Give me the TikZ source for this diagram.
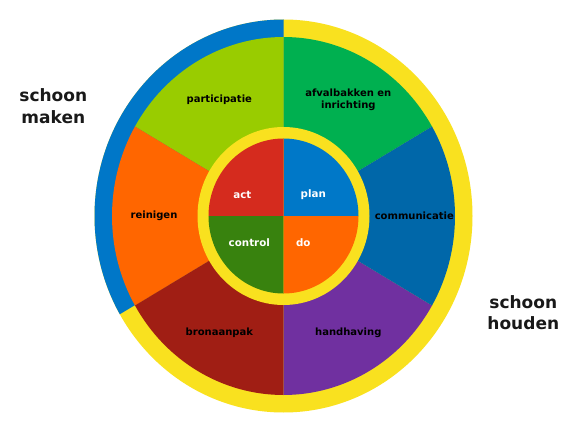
\documentclass[tikz,border=0pt]{standalone}
\usepackage{fontspec}
\setmainfont{DejaVu Sans}
\definecolor{ringblue}{HTML}{0077C8}
\definecolor{ringyellow}{HTML}{F9E11F}
\definecolor{cpart}{HTML}{99CC00}
\definecolor{cafval}{HTML}{00B050}
\definecolor{ccomm}{HTML}{0067A9}
\definecolor{chand}{HTML}{7030A0}
\definecolor{cbron}{HTML}{A01E14}
\definecolor{crein}{HTML}{FF6600}
\definecolor{cact}{HTML}{D52B1E}
\definecolor{cplan}{HTML}{0078C8}
\definecolor{ccontrol}{HTML}{38820E}
\definecolor{cdo}{HTML}{FF6600}
\tikzset{
  outerlabel/.style={font=\bfseries\fontsize{10}{12}\selectfont, text=black, align=center, inner sep=0pt},
  innerlabel/.style={font=\bfseries\fontsize{10.3}{12}\selectfont, text=white, inner sep=0pt},
  sidelabel/.style={font=\bfseries\fontsize{17}{21.5}\selectfont, text=black!90, align=center, inner sep=0pt}
}
\newcommand{\esector}[5]{% color, start, end, rx, ry
  \fill[#1] (c) -- ++({#4*cos(#2)},{#5*sin(#2)}) arc[start angle=#2, end angle=#3, x radius=#4, y radius=#5] -- cycle;}
\begin{document}
\begin{tikzpicture}[x=1pt,y=1pt]
\useasboundingbox (0,0) rectangle (568,432);
\fill[white] (0,0) rectangle (568,432);
\coordinate (c) at (283.5,216);
% outer ring
\fill[ringyellow] (c) ellipse[x radius=189, y radius=196.5];
\esector{ringblue}{90}{210}{189}{196.5}
% sectors
\esector{cafval}{30}{90}{171.5}{179}
\esector{cpart}{90}{150}{171.5}{179}
\esector{crein}{150}{210}{171.5}{179}
\esector{cbron}{210}{270}{171.5}{179}
\esector{chand}{270}{330}{171.5}{179}
\esector{ccomm}{-30}{30}{171.5}{179}
% inner ring
\fill[ringyellow] (c) ellipse[x radius=86, y radius=89];
\esector{cplan}{0}{90}{75}{77.5}
\esector{cact}{90}{180}{75}{77.5}
\esector{ccontrol}{180}{270}{75}{77.5}
\esector{cdo}{270}{360}{75}{77.5}
% outer labels
\node[outerlabel] (part) at (219.3,332.7) {participatie};
\node[outerlabel] (afval) at (348.3,332.5) {afvalbakken en\\inrichting};
\node[outerlabel] (rein) at (154,216) {reinigen};
\node[outerlabel] (comm) at (414.3,216) {communicatie};
\node[outerlabel] (bron) at (219.3,99.7) {bronaanpak};
\node[outerlabel] (hand) at (348.3,99.7) {handhaving};
% inner labels
\node[innerlabel] (act) at (242.3,237.3) {act};
\node[innerlabel] (plan) at (313.3,237.3) {plan};
\node[innerlabel] (control) at (249.3,189.7) {control};
\node[innerlabel] (do) at (303.3,189.7) {do};
% side labels
\node[sidelabel] (maken) at (53.3,326) {schoon\\maken};
\node[sidelabel] (houden) at (523.3,119.5) {schoon\\houden};
\end{tikzpicture}
\end{document}
